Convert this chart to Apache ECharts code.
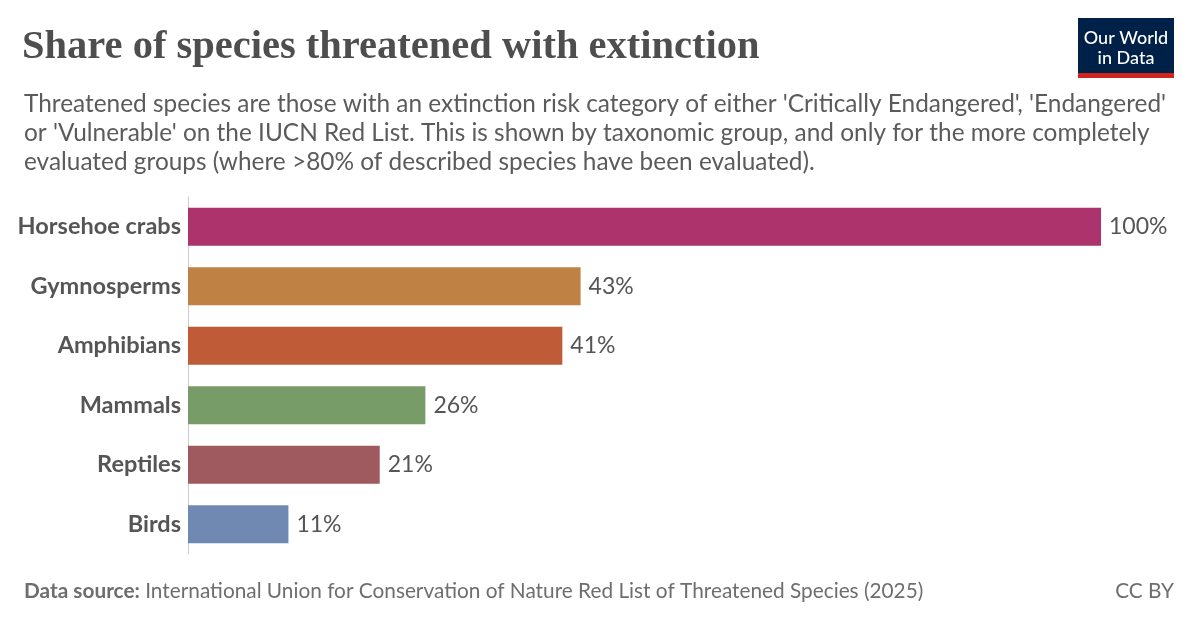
<!DOCTYPE html>
<html>
<head>
<meta charset="utf-8">
<script src="https://cdn.jsdelivr.net/npm/echarts@6/dist/echarts.min.js"></script>
<style>
  html, body { margin: 0; padding: 0; background: #fff; }
  #main { width: 1200px; height: 627px; }
</style>
</head>
<body>
<div id="main"></div>
<script>
// data
const categories = ["Horsehoe crabs", "Gymnosperms", "Amphibians", "Mammals", "Reptiles", "Birds"];
const shares = [100, 43, 41, 26, 21, 11];
const barColors = ["#ac336b", "#c08144", "#c05b38", "#789c67", "#9e5a5f", "#6f89b3"];

const chart = echarts.init(document.getElementById("main"));

const option = {
  animation: false,
  title: [
    {
      text: "Share of species threatened with extinction",
      left: 22,
      top: 27,
      padding: 0,
      textStyle: {
        fontFamily: "Liberation Serif",
        fontWeight: "bold",
        fontSize: 40.5,
        color: "#4e4e4e",
      },
    },
    {
      text:
        "Threatened species are those with an extinction risk category of either 'Critically Endangered', 'Endangered'\n" +
        "or 'Vulnerable' on the IUCN Red List. This is shown by taxonomic group, and only for the more completely\n" +
        "evaluated groups (where >80% of described species have been evaluated).",
      left: 24,
      top: 90,
      padding: 0,
      textStyle: {
        fontFamily: "Lato",
        fontWeight: "normal",
        fontSize: 24.4,
        lineHeight: 29,
        color: "#5b5b5b",
      },
    },
    {
      text: "{b|Data source:} International Union for Conservation of Nature Red List of Threatened Species (2025)",
      left: 24,
      top: 581,
      padding: 0,
      textStyle: {
        fontFamily: "Lato",
        fontWeight: "normal",
        fontSize: 20.8,
        color: "#6e6e6e",
        rich: {
          b: { fontFamily: "Lato", fontWeight: "bold", fontSize: 20.8, color: "#6e6e6e" },
        },
      },
    },
    {
      text: "CC BY",
      right: 26,
      top: 581,
      padding: 0,
      textStyle: { fontFamily: "Lato", fontWeight: "normal", fontSize: 20.8, color: "#6e6e6e" },
    },
  ],
  graphic: [
    {
      type: "group",
      left: 1078,
      top: 18,
      children: [
        { type: "rect", shape: { x: 0, y: 0, width: 96, height: 60 }, style: { fill: "#002147" } },
        { type: "rect", shape: { x: 0, y: 55, width: 96, height: 5 }, style: { fill: "#ce261e" } },
        {
          type: "text",
          style: {
            x: 48, y: 30, text: "Our World\nin Data", align: "center", verticalAlign: "middle",
            fill: "#fff", font: "500 18px Lato", lineHeight: 20,
          },
        },
      ],
    },
  ],
  grid: { left: 188, right: 99, top: 197, bottom: 73, containLabel: false },
  xAxis: {
    type: "value",
    min: 0,
    max: 100,
    show: false,
  },
  yAxis: {
    type: "category",
    inverse: true,
    data: categories,
    axisLine: { show: true, lineStyle: { color: "#cccccc", width: 1 } },
    axisTick: { show: false },
    axisLabel: {
      margin: 7,
      fontFamily: "Lato",
      fontWeight: "bold",
      fontSize: 23.5,
      color: "#555555",
    },
  },
  series: [
    {
      type: "bar",
      data: shares.map((v, i) => ({ value: v, itemStyle: { color: barColors[i] } })),
      barWidth: 38,
      label: {
        show: true,
        position: "right",
        distance: 8,
        formatter: "{c}%",
        fontFamily: "Lato",
        fontSize: 23,
        color: "#555555",
      },
    },
  ],
};

chart.setOption(option);
</script>
</body>
</html>
